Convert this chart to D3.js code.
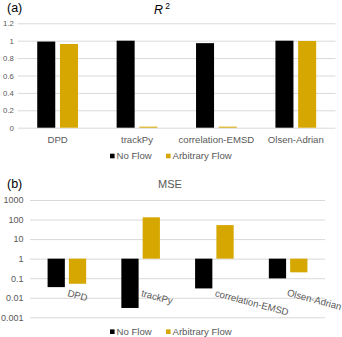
<!DOCTYPE html>
<html>
<head>
<meta charset="utf-8">
<script src="https://cdn.jsdelivr.net/npm/d3@7"></script>
<style>
  body { margin: 0; background: #fff; }
  svg { display: block; font-family: "Liberation Sans", Arial, sans-serif; }
  .axis text { fill: #595959; font-size: 9px; }
  .axis line { stroke: #d9d9d9; }
  .axis .domain { display: none; }
  .cat { fill: #595959; font-size: 9.6px; }
  .legend text { fill: #595959; font-size: 9.6px; }
</style>
</head>
<body>
<div id="chart"></div>
<script>
// data
const categories = ["DPD", "trackPy", "correlation-EMSD", "Olsen-Adrian"];
const seriesNames = ["No Flow", "Arbitrary Flow"];
const r2NoFlow = [0.99, 1.0, 0.972, 1.0];
const r2Arbitrary = [0.962, 0.012, 0.012, 0.997];
const mseNoFlow = [0.035, 0.003, 0.03, 0.098];
const mseArbitrary = [0.052, 130, 52, 0.2];
const r2Ticks = [0, 0.2, 0.4, 0.6, 0.8, 1, 1.2];
const mseTicks = [0.001, 0.01, 0.1, 1, 10, 100, 1000];

const colors = ["#000000", "#d6a700"];
const W = 342, H = 337;

const svg = d3.select("#chart").append("svg")
    .attr("width", W)
    .attr("height", H);

// ---------- panel (a): R^2 ----------
const a = { left: 17.9, right: 335.5, top: 23.3, bottom: 127.7 };

const xa = d3.scaleBand().domain(categories).range([a.left, a.right])
    .paddingInner(0.487).paddingOuter(0.2435);
const xa1 = d3.scaleBand().domain([0, 1]).range([0, xa.bandwidth()])
    .paddingInner(0.207);
const ya = d3.scaleLinear().domain([0, 1.2]).range([a.bottom, a.top]);

const axA = svg.append("g")
    .attr("class", "axis")
    .attr("transform", `translate(${a.left},0)`)
    .call(d3.axisLeft(ya).tickValues(r2Ticks).tickSize(-(a.right - a.left)).tickPadding(4)
        .tickFormat(d3.format("~g")));
axA.selectAll("text").style("font-size", "7.8px");

const r2Data = categories.map((c, i) => ({ cat: c, vals: [r2NoFlow[i], r2Arbitrary[i]] }));

svg.append("g").selectAll("g")
    .data(r2Data)
    .join("g")
    .attr("transform", d => `translate(${xa(d.cat)},0)`)
    .selectAll("rect")
    .data(d => d.vals.map((v, k) => ({ v, k })))
    .join("rect")
    .attr("x", d => xa1(d.k))
    .attr("width", xa1.bandwidth())
    .attr("y", d => ya(d.v))
    .attr("height", d => ya(0) - ya(d.v))
    .attr("fill", d => colors[d.k]);

svg.append("g").selectAll("text")
    .data(categories)
    .join("text")
    .attr("class", "cat")
    .attr("x", d => xa(d) + xa.bandwidth() / 2)
    .attr("y", 142.8)
    .attr("text-anchor", "middle")
    .text(d => d);

// title R^2
const ta = svg.append("text")
    .attr("x", 162)
    .attr("y", 14)
    .attr("text-anchor", "middle")
    .attr("fill", "#000")
    .style("font-size", "12.5px");
ta.append("tspan").style("font-style", "italic").text("R");
ta.append("tspan").attr("dx", 2).attr("dy", -5).style("font-size", "8.5px").text("2");

svg.append("text")
    .attr("x", 7)
    .attr("y", 11.5)
    .attr("fill", "#000")
    .style("font-size", "12.5px")
    .text("(a)");

// ---------- panel (b): MSE ----------
const b = { left: 30, right: 325, top: 200, bottom: 317.3 };

const xb = d3.scaleBand().domain(categories).range([b.left, b.right])
    .paddingInner(0.477).paddingOuter(0.2385);
const xb1 = d3.scaleBand().domain([0, 1]).range([0, xb.bandwidth()])
    .paddingInner(0.19);
const yb = d3.scaleLog().domain([0.001, 1000]).range([b.bottom, b.top]);

svg.append("g")
    .attr("class", "axis")
    .attr("transform", `translate(${b.left},0)`)
    .call(d3.axisLeft(yb).tickValues(mseTicks).tickSize(-(b.right - b.left)).tickPadding(6.5)
        .tickFormat(d => String(d)));

const mseData = categories.map((c, i) => ({ cat: c, vals: [mseNoFlow[i], mseArbitrary[i]] }));

svg.append("g").selectAll("g")
    .data(mseData)
    .join("g")
    .attr("transform", d => `translate(${xb(d.cat)},0)`)
    .selectAll("rect")
    .data(d => d.vals.map((v, k) => ({ v, k })))
    .join("rect")
    .attr("x", d => xb1(d.k))
    .attr("width", xb1.bandwidth())
    .attr("y", d => Math.min(yb(d.v), yb(1)))
    .attr("height", d => Math.abs(yb(d.v) - yb(1)))
    .attr("fill", d => colors[d.k]);

// rotated category labels, pulled back if they run off the right edge
const angle = 15, rad = angle * Math.PI / 180;
svg.append("g").selectAll("text")
    .data(categories)
    .join("text")
    .attr("class", "cat")
    .text(d => d)
    .each(function(d) {
        const len = this.getComputedTextLength();
        let x0 = xb(d) + xb.bandwidth() / 2, y0 = 296;
        const over = x0 + len * Math.cos(rad) - (W - 1.5);
        if (over > 0) {
            const back = over / Math.cos(rad);
            x0 -= back * Math.cos(rad);
            y0 -= back * Math.sin(rad);
        }
        d3.select(this).attr("transform", `translate(${x0},${y0}) rotate(${angle})`);
    });

svg.append("text")
    .attr("x", 170)
    .attr("y", 188.3)
    .attr("text-anchor", "middle")
    .attr("fill", "#595959")
    .style("font-size", "11px")
    .text("MSE");

svg.append("text")
    .attr("x", 7)
    .attr("y", 187.5)
    .attr("fill", "#000")
    .style("font-size", "12.5px")
    .text("(b)");

// ---------- legends ----------
function legend(y) {
    const g = svg.append("g").attr("class", "legend");
    const xs = [110, 166];
    seriesNames.forEach((name, k) => {
        g.append("rect")
            .attr("x", xs[k]).attr("y", y - 2.3)
            .attr("width", 4.6).attr("height", 4.6)
            .attr("fill", colors[k]);
        g.append("text")
            .attr("x", xs[k] + 6.5).attr("y", y + 3.4)
            .text(name);
    });
}
legend(156);
legend(331.7);
</script>
</body>
</html>
